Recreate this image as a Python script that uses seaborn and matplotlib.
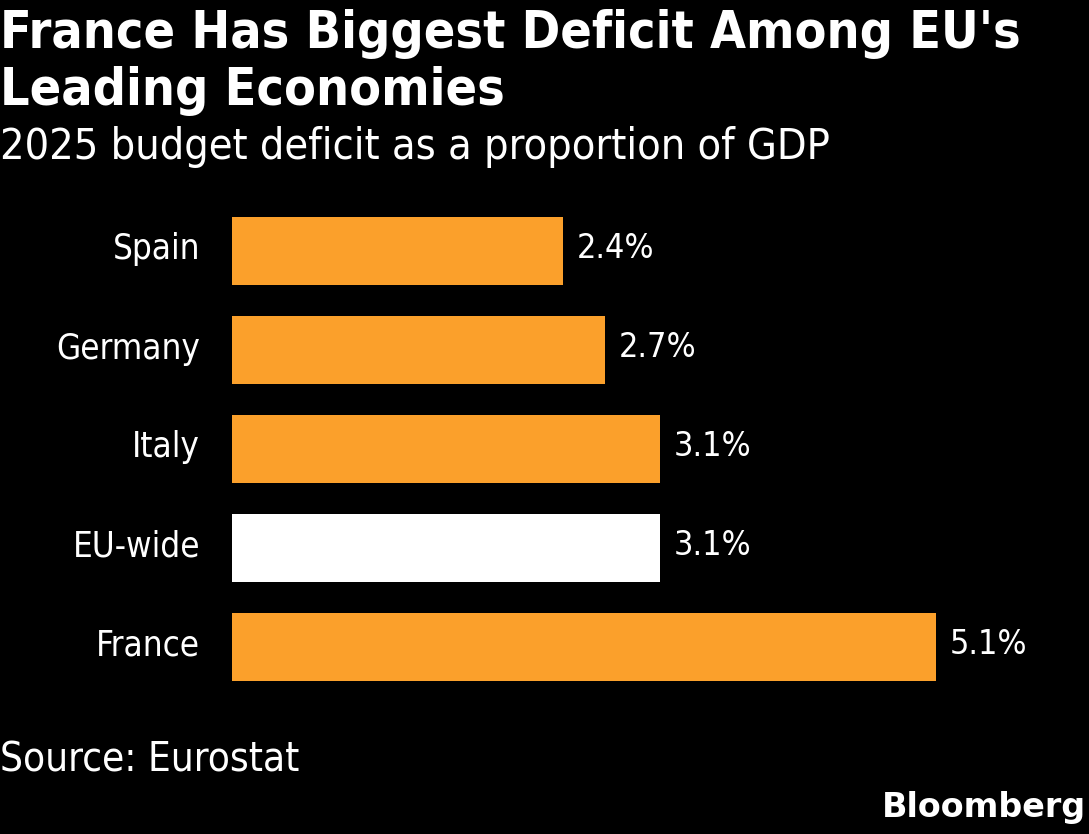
import matplotlib
matplotlib.use("Agg")
import matplotlib.pyplot as plt
import matplotlib.transforms as mtransforms
import seaborn as sns
import pandas as pd

countries = ["Spain", "Germany", "Italy", "EU-wide", "France"]
deficits = [2.4, 2.7, 3.1, 3.1, 5.1]
bar_colors = ["#FBA02B", "#FBA02B", "#FBA02B", "#FFFFFF", "#FBA02B"]

title_lines = ["France Has Biggest Deficit Among EU's", "Leading Economies"]
subtitle = "2025 budget deficit as a proportion of GDP"
source = "Source: Eurostat"
brand = "Bloomberg"

sns.set_style("dark")
plt.rcParams["font.family"] = ["DejaVu Sans"]
plt.rcParams["font.stretch"] = "condensed"

df = pd.DataFrame({"country": countries, "deficit": deficits})
W, H = 1089, 834
fig = plt.figure(figsize=(W / 100, H / 100), dpi=100, facecolor="black")
ax = fig.add_axes([232 / W, 1 - 696.5 / H, (1060 - 232) / W, (696.5 - 201.5) / H])
ax.set_facecolor("black")

sns.barplot(data=df, x="deficit", y="country", hue="country",
            palette=dict(zip(countries, bar_colors)), order=countries,
            hue_order=countries, orient="h", width=0.69, legend=False,
            saturation=1, linewidth=0, edgecolor="none", ax=ax)

ax.set_xlim(0, 6.0)
ax.set_ylim(4.5, -0.5)
ax.set_xlabel("")
ax.set_ylabel("")
ax.set_xticks([])
ax.grid(False)
for s in ax.spines.values():
    s.set_visible(False)
ax.tick_params(axis="y", length=0, pad=23, labelsize=25, labelcolor="white")
shift = mtransforms.ScaledTranslation(0, 5 / 100, fig.dpi_scale_trans)
for lab in ax.get_yticklabels():
    lab.set_transform(lab.get_transform() + shift)

for cont in ax.containers:
    for bar, v in zip(cont.patches, cont.datavalues):
        ax.annotate(f"{v:.1f}%", xy=(bar.get_width(), bar.get_y() + bar.get_height() / 2),
                    xytext=(10, 1.5), textcoords="offset points", va="center",
                    ha="left", color="white", fontsize=24.5)

fig.text(0.0, 1 - 48 / H, title_lines[0], color="white", fontsize=37.3,
         fontweight="bold", va="baseline", ha="left")
fig.text(0.0, 1 - 105 / H, title_lines[1], color="white", fontsize=37.3,
         fontweight="bold", va="baseline", ha="left")
fig.text(0.0, 1 - 159 / H, subtitle, color="white", fontsize=31,
         va="baseline", ha="left")
fig.text(0.0, 1 - 771 / H, source, color="white", fontsize=29,
         va="baseline", ha="left")
fig.text(1086 / W, 1 - 817 / H, brand, color="white", fontsize=24,
         fontweight="bold", va="baseline", ha="right", fontstretch="normal",
         family=["DejaVu Sans"])

fig.savefig("out.png", dpi=100, facecolor="black")
